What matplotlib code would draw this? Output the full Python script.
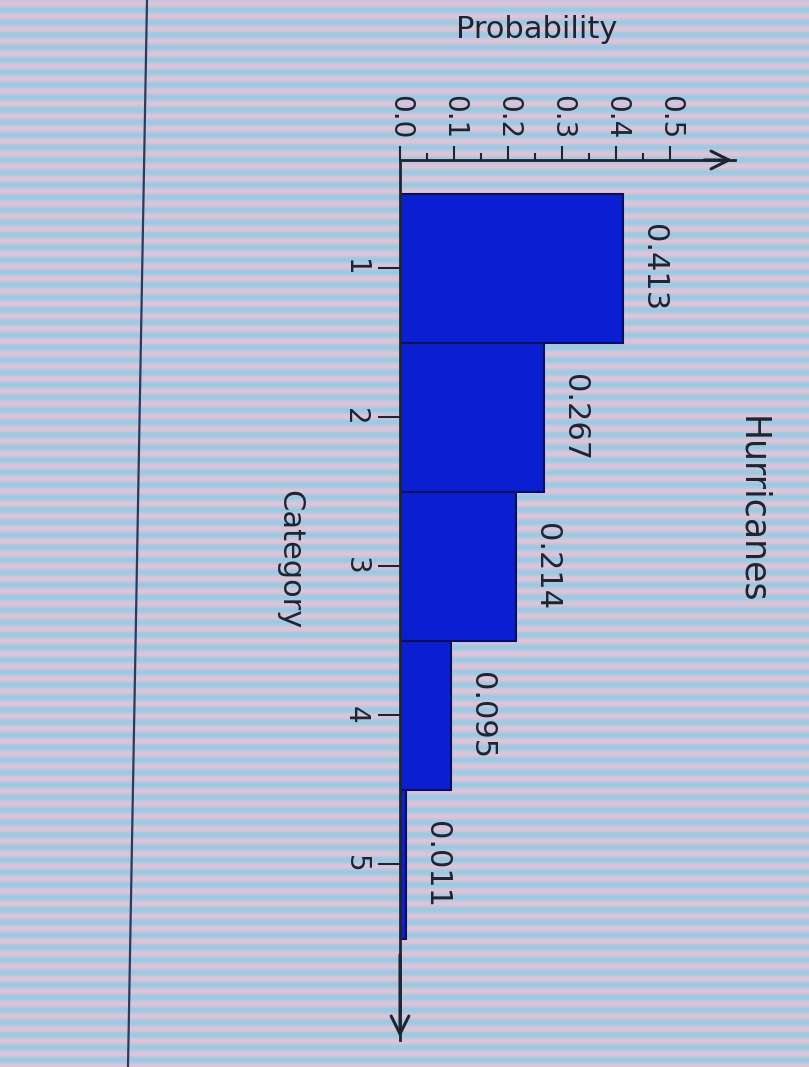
import matplotlib.pyplot as plt
import numpy as np
from matplotlib.lines import Line2D

# data
categories = [1, 2, 3, 4, 5]
probs = [0.413, 0.267, 0.214, 0.095, 0.011]
prob_ticks = [0.0, 0.1, 0.2, 0.3, 0.4, 0.5]
prob_labels = ['0.0', '0.1', '0.2', '0.3', '0.4', '0.5']

W, H = 809, 1067
fig = plt.figure(figsize=(W / 100, H / 100), dpi=100)

# striped screen background (moire from the photo)
bg = fig.add_axes([0, 0, 1, 1])
rows = np.arange(H)
t = 0.5 + 0.5 * np.sin(rows * 2 * np.pi / 12.5)
blue = np.array([150, 204, 230]) / 255
pink = np.array([228, 194, 214]) / 255
img = (blue[None, :] * (1 - t[:, None]) + pink[None, :] * t[:, None])[:, None, :]
bg.imshow(img, extent=[0, 1, 0, 1], aspect='auto', interpolation='bilinear')
bg.set_xlim(0, 1)
bg.set_ylim(0, 1)
bg.axis('off')

# slanted separator line at the left
fig.add_artist(Line2D([147 / W, 128 / W], [1, 0], color='#2c3a5c', lw=1.6))

ink = '#1e2530'
ax = fig.add_axes([400 / W, 1 - 1040 / H, 335 / W, (1040 - 160) / H])
ax.patch.set_alpha(0)
ax.barh(categories, probs, height=1.0, color='#0b1fd2', edgecolor='#0a1050', linewidth=1.5)
ax.set_xlim(0, 0.62)
ax.set_ylim(6.18, 0.275)

for s in ['right', 'bottom']:
    ax.spines[s].set_visible(False)
for s in ['left', 'top']:
    ax.spines[s].set_color(ink)
    ax.spines[s].set_linewidth(2)

# arrow heads on the two axes
ax.annotate('', xy=(1.0, 1.0), xytext=(0.9, 1.0), xycoords='axes fraction',
            arrowprops=dict(arrowstyle='->', color=ink, lw=2.2, mutation_scale=32))
ax.annotate('', xy=(0.0, 0.0), xytext=(0.0, 0.1), xycoords='axes fraction',
            arrowprops=dict(arrowstyle='->', color=ink, lw=2.2, mutation_scale=32))

ax.xaxis.tick_top()
ax.set_xticks(prob_ticks)
ax.set_xticklabels(prob_labels, rotation=-90, fontsize=20, color=ink)
ax.set_xticks(np.arange(0.05, 0.55, 0.1), minor=True)
ax.tick_params(axis='x', which='major', direction='out', length=10, width=1.5, color=ink, pad=5)
ax.tick_params(axis='x', which='minor', direction='out', length=5, width=1.5, color=ink)

ax.set_yticks(categories)
ax.set_yticklabels([str(c) for c in categories], rotation=-90, fontsize=20, color=ink,
                   va='center')
ax.tick_params(axis='y', direction='out', length=16, width=1.5, color=ink, pad=6)

for c, p in zip(categories, probs):
    ax.annotate(f'{p:.3f}', xy=(p, c), xytext=(22, 0), textcoords='offset points',
                rotation=-90, ha='center', va='center', fontsize=22, color=ink)

fig.text(537 / W, 1 - 30 / H, 'Probability', ha='center', va='center', fontsize=22, color=ink)
fig.text(290 / W, 1 - 560 / H, 'Category', ha='center', va='center', rotation=-90,
         fontsize=22, color=ink)
fig.text(752 / W, 1 - 510 / H, 'Hurricanes', ha='center', va='center', rotation=-90,
         fontsize=25, color=ink)

fig.savefig('out.png', dpi=100)
